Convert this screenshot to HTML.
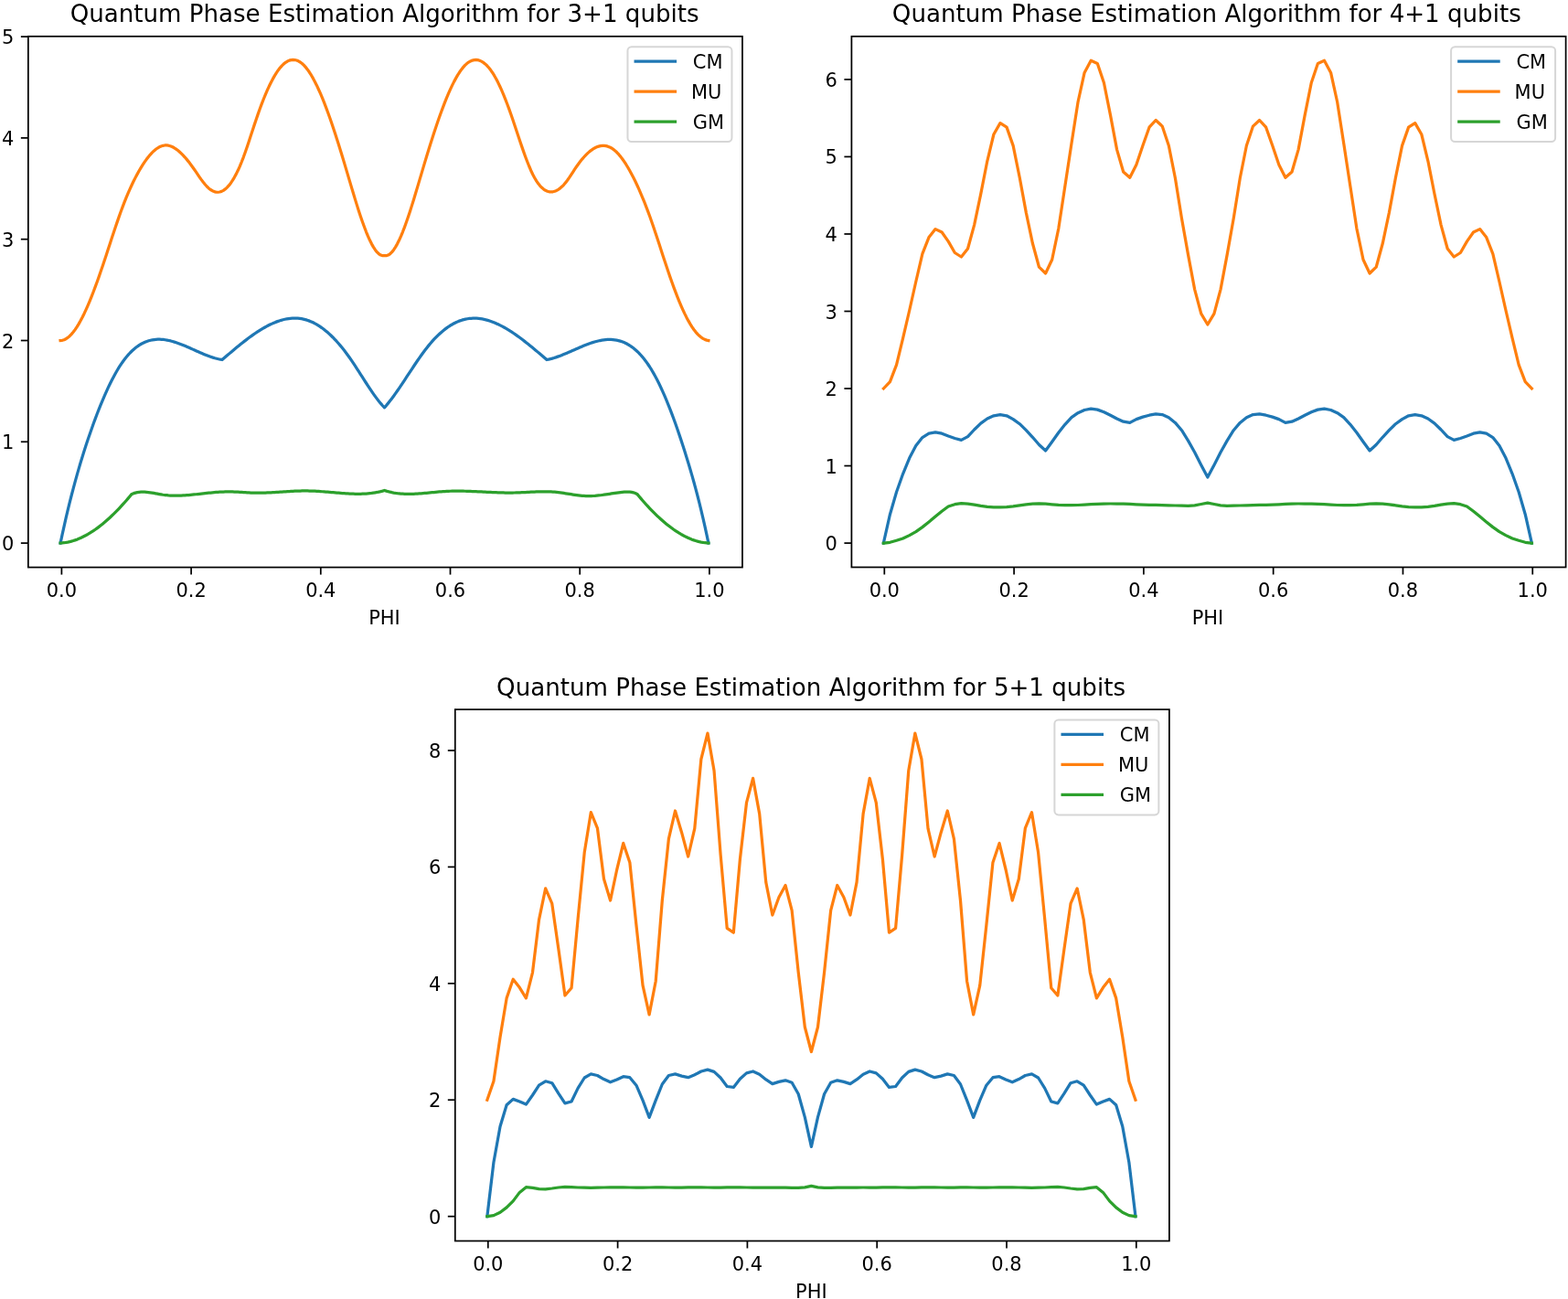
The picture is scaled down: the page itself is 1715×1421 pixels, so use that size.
<!DOCTYPE html>
<html><head><meta charset="utf-8"><title>Quantum Phase Estimation Algorithm</title>
<style>
html,body{margin:0;padding:0;background:#fff;width:1715px;height:1421px;overflow:hidden}
svg{display:block}
.t{font-family:'DejaVu Sans', 'Liberation Sans', sans-serif;font-size:20.95px;fill:#000}
.ti{font-family:'DejaVu Sans', 'Liberation Sans', sans-serif;font-size:26.1px;fill:#000}
</style></head><body>
<svg width="1715" height="1421" viewBox="0 0 1715 1421">
<defs><clipPath id="c0"><rect x="30.85" y="39.8" width="781.11" height="580.80"/></clipPath><clipPath id="c1"><rect x="931.4" y="39.8" width="781.20" height="580.70"/></clipPath><clipPath id="c2"><rect x="497.8" y="776.1" width="781.10" height="581.40"/></clipPath></defs>
<rect x="0" y="0" width="1715" height="1421" fill="#fff"/>
<polyline points="66.10,594.10 68.11,584.67 70.12,575.55 72.13,566.73 74.14,558.21 76.15,549.97 78.16,542.00 80.17,534.29 82.18,526.82 84.19,519.59 86.20,512.59 88.21,505.80 90.22,499.21 92.23,492.82 94.24,486.60 96.25,480.55 98.26,474.66 100.27,468.92 102.28,463.31 104.29,457.85 106.30,452.54 108.31,447.37 110.32,442.36 112.34,437.51 114.35,432.82 116.36,428.29 118.37,423.92 120.38,419.73 122.39,415.72 124.40,411.88 126.41,408.22 128.42,404.75 130.43,401.47 132.44,398.37 134.45,395.48 136.46,392.77 138.47,390.26 140.48,387.92 142.49,385.76 144.50,383.77 146.51,381.95 148.52,380.29 150.53,378.79 152.54,377.44 154.55,376.24 156.56,375.18 158.57,374.26 160.58,373.47 162.59,372.80 164.60,372.26 166.61,371.84 168.62,371.53 170.63,371.32 172.64,371.22 174.65,371.22 176.66,371.30 178.67,371.48 180.68,371.74 182.69,372.07 184.70,372.48 186.71,372.95 188.72,373.49 190.73,374.09 192.74,374.73 194.75,375.43 196.76,376.17 198.78,376.94 200.79,377.75 202.80,378.59 204.81,379.45 206.82,380.32 208.83,381.21 210.84,382.11 212.85,383.01 214.86,383.91 216.87,384.80 218.88,385.68 220.89,386.55 222.90,387.39 224.91,388.20 226.92,388.98 228.93,389.73 230.94,390.43 232.95,391.09 234.96,391.70 236.97,392.24 238.98,392.73 240.99,393.15 243.00,393.50 245.02,391.77 247.03,390.05 249.05,388.33 251.07,386.62 253.09,384.91 255.10,383.22 257.12,381.54 259.14,379.87 261.15,378.22 263.17,376.59 265.19,374.98 267.20,373.40 269.22,371.84 271.24,370.32 273.26,368.82 275.27,367.35 277.29,365.93 279.31,364.53 281.32,363.18 283.34,361.88 285.36,360.61 287.38,359.40 289.39,358.23 291.41,357.11 293.43,356.05 295.44,355.04 297.46,354.10 299.48,353.21 301.49,352.38 303.51,351.62 305.53,350.93 307.55,350.31 309.56,349.76 311.58,349.28 313.60,348.88 315.61,348.56 317.63,348.32 319.65,348.16 321.66,348.09 323.68,348.11 325.70,348.21 327.72,348.41 329.73,348.71 331.75,349.10 333.77,349.59 335.78,350.18 337.80,350.87 339.82,351.67 341.84,352.57 343.85,353.56 345.87,354.66 347.89,355.86 349.90,357.16 351.92,358.56 353.94,360.05 355.95,361.65 357.97,363.34 359.99,365.12 362.01,367.00 364.02,368.98 366.04,371.06 368.06,373.22 370.07,375.49 372.09,377.84 374.11,380.29 376.12,382.83 378.14,385.46 380.16,388.18 382.18,391.00 384.19,393.90 386.21,396.88 388.23,399.93 390.24,403.02 392.26,406.15 394.28,409.30 396.30,412.47 398.31,415.62 400.33,418.75 402.35,421.86 404.36,424.91 406.38,427.90 408.40,430.81 410.41,433.63 412.43,436.35 414.45,438.95 416.47,441.42 418.48,443.74 420.50,445.90 422.52,443.57 424.53,441.12 426.55,438.57 428.57,435.92 430.59,433.19 432.60,430.38 434.62,427.50 436.64,424.57 438.65,421.59 440.67,418.57 442.69,415.53 444.70,412.47 446.72,409.40 448.74,406.34 450.76,403.28 452.77,400.25 454.79,397.24 456.81,394.28 458.82,391.37 460.84,388.51 462.86,385.73 464.88,383.02 466.89,380.41 468.91,377.89 470.93,375.48 472.94,373.17 474.96,370.96 476.98,368.86 478.99,366.86 481.01,364.96 483.03,363.17 485.05,361.48 487.06,359.89 489.08,358.40 491.10,357.02 493.11,355.73 495.13,354.55 497.15,353.48 499.16,352.50 501.18,351.62 503.20,350.85 505.22,350.17 507.23,349.60 509.25,349.12 511.27,348.75 513.28,348.46 515.30,348.27 517.32,348.18 519.34,348.17 521.35,348.24 523.37,348.40 525.39,348.64 527.40,348.96 529.42,349.36 531.44,349.84 533.45,350.39 535.47,351.00 537.49,351.69 539.51,352.45 541.52,353.26 543.54,354.15 545.56,355.09 547.57,356.09 549.59,357.14 551.61,358.25 553.62,359.41 555.64,360.62 557.66,361.87 559.68,363.17 561.69,364.52 563.71,365.90 565.73,367.32 567.74,368.78 569.76,370.27 571.78,371.79 573.80,373.35 575.81,374.93 577.83,376.53 579.85,378.16 581.86,379.81 583.88,381.48 585.90,383.17 587.91,384.87 589.93,386.58 591.95,388.30 593.97,390.03 595.98,391.76 598.00,393.50 600.01,393.09 602.02,392.61 604.03,392.07 606.04,391.48 608.05,390.84 610.06,390.15 612.07,389.42 614.08,388.65 616.09,387.86 618.10,387.03 620.11,386.19 622.12,385.33 624.13,384.45 626.14,383.57 628.15,382.68 630.16,381.79 632.17,380.91 634.18,380.04 636.19,379.19 638.20,378.35 640.21,377.55 642.23,376.77 644.24,376.02 646.25,375.31 648.26,374.65 650.27,374.04 652.28,373.47 654.29,372.97 656.30,372.53 658.31,372.15 660.32,371.85 662.33,371.62 664.34,371.47 666.35,371.41 668.36,371.44 670.37,371.57 672.38,371.79 674.39,372.12 676.40,372.56 678.41,373.11 680.42,373.78 682.43,374.58 684.44,375.50 686.45,376.55 688.46,377.74 690.47,379.08 692.48,380.56 694.49,382.19 696.50,383.98 698.51,385.93 700.52,388.04 702.53,390.32 704.54,392.78 706.55,395.42 708.56,398.24 710.57,401.26 712.58,404.46 714.59,407.86 716.60,411.47 718.61,415.27 720.62,419.28 722.63,423.47 724.64,427.84 726.65,432.40 728.66,437.14 730.67,442.05 732.69,447.13 734.70,452.37 736.71,457.77 738.72,463.32 740.73,469.02 742.74,474.87 744.75,480.86 746.76,486.99 748.77,493.25 750.78,499.65 752.79,506.20 754.80,512.93 756.81,519.85 758.82,526.99 760.83,534.36 762.84,541.99 764.85,549.88 766.86,558.07 768.87,566.56 770.88,575.39 772.89,584.56 774.90,594.10" fill="none" stroke="#1f77b4" stroke-width="3.25" stroke-linejoin="round" stroke-linecap="square" clip-path="url(#c0)"/>
<polyline points="66.10,372.50 68.10,372.29 70.10,371.70 72.11,370.72 74.11,369.38 76.11,367.68 78.11,365.64 80.12,363.28 82.12,360.60 84.12,357.61 86.12,354.34 88.12,350.79 90.13,346.97 92.13,342.91 94.13,338.60 96.13,334.07 98.14,329.32 100.14,324.38 102.14,319.24 104.14,313.93 106.15,308.46 108.15,302.84 110.15,297.08 112.15,291.19 114.15,285.21 116.16,279.16 118.16,273.06 120.16,266.94 122.16,260.84 124.17,254.78 126.17,248.79 128.17,242.89 130.17,237.12 132.17,231.51 134.18,226.07 136.18,220.85 138.18,215.85 140.18,211.08 142.19,206.54 144.19,202.20 146.19,198.07 148.19,194.13 150.19,190.38 152.20,186.82 154.20,183.42 156.20,180.21 158.20,177.18 160.21,174.35 162.21,171.72 164.21,169.31 166.21,167.13 168.22,165.18 170.22,163.47 172.22,162.03 174.22,160.84 176.22,159.94 178.23,159.31 180.23,158.99 182.23,158.96 184.23,159.21 186.24,159.74 188.24,160.53 190.24,161.56 192.24,162.82 194.24,164.29 196.25,165.97 198.25,167.83 200.25,169.87 202.25,172.06 204.26,174.39 206.26,176.86 208.26,179.45 210.26,182.17 212.26,185.00 214.27,187.92 216.27,190.88 218.27,193.81 220.27,196.64 222.28,199.32 224.28,201.78 226.28,204.00 228.28,205.92 230.29,207.50 232.29,208.74 234.29,209.61 236.29,210.12 238.29,210.25 240.30,210.01 242.30,209.38 244.30,208.36 246.30,206.95 248.31,205.15 250.31,202.97 252.31,200.39 254.31,197.44 256.31,194.10 258.32,190.39 260.32,186.30 262.32,181.84 264.32,177.00 266.33,171.80 268.33,166.24 270.33,160.41 272.33,154.39 274.34,148.28 276.34,142.17 278.34,136.12 280.34,130.18 282.34,124.38 284.35,118.77 286.35,113.39 288.35,108.25 290.35,103.35 292.36,98.70 294.36,94.32 296.36,90.21 298.36,86.38 300.36,82.85 302.37,79.61 304.37,76.69 306.37,74.08 308.37,71.81 310.38,69.87 312.38,68.27 314.38,67.03 316.38,66.13 318.38,65.57 320.39,65.37 322.39,65.51 324.39,66.00 326.39,66.83 328.40,68.01 330.40,69.54 332.40,71.42 334.40,73.63 336.41,76.17 338.41,79.04 340.41,82.20 342.41,85.67 344.41,89.41 346.42,93.42 348.42,97.69 350.42,102.21 352.42,106.96 354.43,111.93 356.43,117.11 358.43,122.49 360.43,128.06 362.43,133.80 364.44,139.71 366.44,145.76 368.44,151.96 370.44,158.28 372.45,164.71 374.45,171.25 376.45,177.88 378.45,184.59 380.45,191.35 382.46,198.13 384.46,204.88 386.46,211.56 388.46,218.15 390.47,224.61 392.47,230.89 394.47,236.96 396.47,242.78 398.48,248.31 400.48,253.53 402.48,258.38 404.48,262.83 406.48,266.84 408.49,270.39 410.49,273.42 412.49,275.90 414.49,277.80 416.50,279.07 418.50,279.68 420.50,279.60 422.50,279.68 424.50,279.06 426.51,277.78 428.51,275.89 430.51,273.40 432.51,270.37 434.52,266.83 436.52,262.81 438.52,258.37 440.52,253.52 442.52,248.31 444.53,242.78 446.53,236.96 448.53,230.90 450.53,224.62 452.54,218.17 454.54,211.58 456.54,204.90 458.54,198.15 460.55,191.37 462.55,184.61 464.55,177.90 466.55,171.27 468.55,164.73 470.56,158.29 472.56,151.96 474.56,145.76 476.56,139.70 478.57,133.79 480.57,128.05 482.57,122.47 484.57,117.09 486.57,111.90 488.58,106.92 490.58,102.17 492.58,97.65 494.58,93.38 496.59,89.37 498.59,85.63 500.59,82.17 502.59,79.01 504.59,76.16 506.60,73.63 508.60,71.42 510.60,69.57 512.60,68.05 514.61,66.89 516.61,66.07 518.61,65.60 520.61,65.47 522.62,65.68 524.62,66.23 526.62,67.12 528.62,68.35 530.62,69.91 532.63,71.80 534.63,74.03 536.63,76.59 538.63,79.48 540.64,82.70 542.64,86.24 544.64,90.09 546.64,94.23 548.64,98.65 550.65,103.34 552.65,108.29 554.65,113.48 556.65,118.90 558.66,124.53 560.66,130.34 562.66,136.26 564.66,142.26 566.66,148.27 568.67,154.24 570.67,160.13 572.67,165.88 574.67,171.43 576.68,176.75 578.68,181.76 580.68,186.44 582.68,190.71 584.69,194.53 586.69,197.90 588.69,200.82 590.69,203.30 592.69,205.37 594.70,207.04 596.70,208.32 598.70,209.22 600.70,209.76 602.71,209.94 604.71,209.78 606.71,209.27 608.71,208.44 610.71,207.29 612.72,205.83 614.72,204.07 616.72,202.01 618.72,199.67 620.73,197.04 622.73,194.18 624.73,191.15 626.73,188.05 628.74,184.98 630.74,182.03 632.74,179.22 634.74,176.57 636.74,174.07 638.75,171.75 640.75,169.60 642.75,167.64 644.75,165.87 646.76,164.29 648.76,162.92 650.76,161.77 652.76,160.83 654.76,160.11 656.77,159.63 658.77,159.38 660.77,159.38 662.77,159.63 664.78,160.14 666.78,160.92 668.78,161.97 670.78,163.30 672.78,164.91 674.79,166.80 676.79,168.95 678.79,171.36 680.79,174.01 682.80,176.89 684.80,179.98 686.80,183.28 688.80,186.77 690.81,190.45 692.81,194.30 694.81,198.34 696.81,202.56 698.81,206.95 700.82,211.53 702.82,216.28 704.82,221.21 706.82,226.32 708.83,231.60 710.83,237.05 712.83,242.67 714.83,248.47 716.83,254.41 718.84,260.46 720.84,266.58 722.84,272.74 724.84,278.91 726.85,285.04 728.85,291.10 730.85,297.06 732.85,302.89 734.85,308.57 736.86,314.09 738.86,319.44 740.86,324.60 742.86,329.56 744.87,334.30 746.87,338.83 748.87,343.11 750.87,347.14 752.88,350.91 754.88,354.39 756.88,357.59 758.88,360.48 760.88,363.08 762.89,365.37 764.89,367.35 766.89,369.01 768.89,370.37 770.90,371.40 772.90,372.11 774.90,372.50" fill="none" stroke="#ff7f0e" stroke-width="3.25" stroke-linejoin="round" stroke-linecap="square" clip-path="url(#c0)"/>
<polyline points="66.10,594.10 68.10,593.96 70.11,593.74 72.11,593.45 74.11,593.08 76.11,592.64 78.12,592.12 80.12,591.54 82.12,590.88 84.12,590.16 86.13,589.36 88.13,588.50 90.13,587.57 92.13,586.57 94.14,585.51 96.14,584.39 98.14,583.20 100.14,581.94 102.15,580.63 104.15,579.26 106.15,577.82 108.15,576.33 110.16,574.78 112.16,573.17 114.16,571.51 116.16,569.79 118.17,568.01 120.17,566.19 122.17,564.30 124.17,562.37 126.18,560.39 128.18,558.36 130.18,556.27 132.18,554.14 134.19,551.97 136.19,549.74 138.19,547.47 140.19,545.16 142.20,542.80 144.20,540.40 146.20,539.66 148.20,539.08 150.21,538.66 152.21,538.37 154.21,538.21 156.21,538.16 158.22,538.21 160.22,538.34 162.22,538.54 164.22,538.81 166.22,539.12 168.23,539.47 170.23,539.83 172.23,540.21 174.23,540.57 176.23,540.92 178.24,541.24 180.24,541.51 182.24,541.73 184.24,541.91 186.25,542.04 188.25,542.14 190.25,542.19 192.25,542.21 194.25,542.19 196.26,542.15 198.26,542.07 200.26,541.97 202.26,541.85 204.27,541.70 206.27,541.54 208.27,541.36 210.27,541.17 212.27,540.96 214.28,540.75 216.28,540.53 218.28,540.31 220.28,540.09 222.28,539.86 224.29,539.64 226.29,539.43 228.29,539.22 230.29,539.02 232.30,538.83 234.30,538.65 236.30,538.48 238.30,538.34 240.30,538.21 242.31,538.10 244.31,538.01 246.31,537.95 248.31,537.91 250.32,537.91 252.32,537.93 254.32,537.98 256.32,538.05 258.32,538.13 260.33,538.23 262.33,538.35 264.33,538.46 266.33,538.58 268.33,538.70 270.34,538.82 272.34,538.92 274.34,539.01 276.34,539.09 278.35,539.14 280.35,539.17 282.35,539.18 284.35,539.17 286.35,539.14 288.36,539.10 290.36,539.03 292.36,538.96 294.36,538.87 296.37,538.77 298.37,538.66 300.37,538.54 302.37,538.42 304.37,538.29 306.38,538.16 308.38,538.03 310.38,537.90 312.38,537.77 314.38,537.65 316.39,537.53 318.39,537.42 320.39,537.31 322.39,537.22 324.40,537.13 326.40,537.06 328.40,537.01 330.40,536.97 332.40,536.95 334.41,536.95 336.41,536.97 338.41,537.01 340.41,537.07 342.42,537.15 344.42,537.24 346.42,537.35 348.42,537.47 350.42,537.60 352.43,537.75 354.43,537.90 356.43,538.06 358.43,538.22 360.43,538.39 362.44,538.56 364.44,538.73 366.44,538.90 368.44,539.07 370.45,539.24 372.45,539.40 374.45,539.55 376.45,539.69 378.45,539.83 380.46,539.95 382.46,540.06 384.46,540.15 386.46,540.22 388.47,540.27 390.47,540.30 392.47,540.30 394.47,540.27 396.47,540.22 398.48,540.13 400.48,540.01 402.48,539.85 404.48,539.66 406.48,539.43 408.49,539.15 410.49,538.83 412.49,538.47 414.49,538.05 416.50,537.59 418.50,537.07 420.50,536.50 422.50,537.13 424.50,537.70 426.51,538.21 428.51,538.65 430.51,539.04 432.51,539.38 434.52,539.66 436.52,539.89 438.52,540.08 440.52,540.22 442.52,540.32 444.53,540.39 446.53,540.41 448.53,540.41 450.53,540.37 452.53,540.30 454.54,540.21 456.54,540.10 458.54,539.97 460.54,539.82 462.55,539.65 464.55,539.48 466.55,539.29 468.55,539.10 470.55,538.90 472.56,538.71 474.56,538.51 476.56,538.32 478.56,538.14 480.57,537.96 482.57,537.80 484.57,537.65 486.57,537.52 488.57,537.41 490.58,537.32 492.58,537.25 494.58,537.20 496.58,537.16 498.58,537.14 500.59,537.14 502.59,537.14 504.59,537.17 506.59,537.20 508.60,537.25 510.60,537.30 512.60,537.37 514.60,537.44 516.60,537.52 518.61,537.60 520.61,537.69 522.61,537.79 524.61,537.89 526.62,537.99 528.62,538.09 530.62,538.19 532.62,538.29 534.62,538.39 536.63,538.48 538.63,538.57 540.63,538.66 542.63,538.74 544.63,538.81 546.64,538.88 548.64,538.94 550.64,538.98 552.64,539.02 554.65,539.04 556.65,539.05 558.65,539.05 560.65,539.03 562.65,539.00 564.66,538.95 566.66,538.88 568.66,538.81 570.66,538.72 572.67,538.62 574.67,538.52 576.67,538.42 578.67,538.32 580.67,538.22 582.68,538.12 584.68,538.03 586.68,537.95 588.68,537.88 590.68,537.83 592.69,537.80 594.69,537.78 596.69,537.79 598.69,537.82 600.70,537.88 602.70,537.97 604.70,538.09 606.70,538.24 608.70,538.43 610.71,538.66 612.71,538.91 614.71,539.18 616.71,539.48 618.72,539.79 620.72,540.10 622.72,540.42 624.72,540.73 626.72,541.04 628.73,541.34 630.73,541.61 632.73,541.87 634.73,542.09 636.73,542.29 638.74,542.44 640.74,542.56 642.74,542.62 644.74,542.63 646.75,542.59 648.75,542.50 650.75,542.37 652.75,542.19 654.75,541.98 656.76,541.75 658.76,541.49 660.76,541.20 662.76,540.91 664.77,540.60 666.77,540.28 668.77,539.97 670.77,539.66 672.77,539.36 674.78,539.07 676.78,538.79 678.78,538.55 680.78,538.32 682.78,538.14 684.79,538.03 686.79,538.01 688.79,538.12 690.79,538.39 692.80,538.83 694.80,539.49 696.80,540.40 698.80,542.80 700.81,545.16 702.81,547.47 704.81,549.74 706.81,551.97 708.82,554.14 710.82,556.27 712.82,558.36 714.82,560.39 716.83,562.37 718.83,564.30 720.83,566.19 722.83,568.01 724.84,569.79 726.84,571.51 728.84,573.17 730.84,574.78 732.85,576.33 734.85,577.82 736.85,579.26 738.85,580.63 740.86,581.94 742.86,583.20 744.86,584.39 746.86,585.51 748.87,586.57 750.87,587.57 752.87,588.50 754.87,589.36 756.88,590.16 758.88,590.88 760.88,591.54 762.88,592.12 764.89,592.64 766.89,593.08 768.89,593.45 770.89,593.74 772.90,593.96 774.90,594.10" fill="none" stroke="#2ca02c" stroke-width="3.25" stroke-linejoin="round" stroke-linecap="square" clip-path="url(#c0)"/>
<rect x="30.85" y="39.8" width="781.11" height="580.80" fill="none" stroke="#000" stroke-width="1.73" stroke-linejoin="miter" stroke-linecap="square"/>
<line x1="67.40" y1="620.6" x2="67.40" y2="628.60" stroke="#000" stroke-width="1.73"/>
<text x="67.40" y="652.90" text-anchor="middle" class="t">0.0</text>
<line x1="209.10" y1="620.6" x2="209.10" y2="628.60" stroke="#000" stroke-width="1.73"/>
<text x="209.10" y="652.90" text-anchor="middle" class="t">0.2</text>
<line x1="350.80" y1="620.6" x2="350.80" y2="628.60" stroke="#000" stroke-width="1.73"/>
<text x="350.80" y="652.90" text-anchor="middle" class="t">0.4</text>
<line x1="492.50" y1="620.6" x2="492.50" y2="628.60" stroke="#000" stroke-width="1.73"/>
<text x="492.50" y="652.90" text-anchor="middle" class="t">0.6</text>
<line x1="634.20" y1="620.6" x2="634.20" y2="628.60" stroke="#000" stroke-width="1.73"/>
<text x="634.20" y="652.90" text-anchor="middle" class="t">0.8</text>
<line x1="775.90" y1="620.6" x2="775.90" y2="628.60" stroke="#000" stroke-width="1.73"/>
<text x="775.90" y="652.90" text-anchor="middle" class="t">1.0</text>
<line x1="22.85" y1="594.10" x2="30.85" y2="594.10" stroke="#000" stroke-width="1.73"/>
<text x="15.35" y="602.10" text-anchor="end" class="t">0</text>
<line x1="22.85" y1="483.30" x2="30.85" y2="483.30" stroke="#000" stroke-width="1.73"/>
<text x="15.35" y="491.30" text-anchor="end" class="t">1</text>
<line x1="22.85" y1="372.50" x2="30.85" y2="372.50" stroke="#000" stroke-width="1.73"/>
<text x="15.35" y="380.50" text-anchor="end" class="t">2</text>
<line x1="22.85" y1="261.70" x2="30.85" y2="261.70" stroke="#000" stroke-width="1.73"/>
<text x="15.35" y="269.70" text-anchor="end" class="t">3</text>
<line x1="22.85" y1="150.90" x2="30.85" y2="150.90" stroke="#000" stroke-width="1.73"/>
<text x="15.35" y="158.90" text-anchor="end" class="t">4</text>
<line x1="22.85" y1="40.10" x2="30.85" y2="40.10" stroke="#000" stroke-width="1.73"/>
<text x="15.35" y="48.10" text-anchor="end" class="t">5</text>
<text x="420.61" y="24.20" text-anchor="middle" class="ti">Quantum Phase Estimation Algorithm for 3+1 qubits</text>
<text x="420.41" y="682.60" text-anchor="middle" class="t">PHI</text>
<rect x="686.46" y="51.20" width="114.0" height="103.9" rx="4.3" ry="4.3" fill="#fff" fill-opacity="0.8" stroke="#d6d6d6" stroke-width="2"/>
<line x1="695.16" y1="67.10" x2="738.46" y2="67.10" stroke="#1f77b4" stroke-width="3.25" stroke-linecap="square"/>
<text x="757.86" y="74.90" class="t">CM</text>
<line x1="695.16" y1="100.05" x2="738.46" y2="100.05" stroke="#ff7f0e" stroke-width="3.25" stroke-linecap="square"/>
<text x="755.96" y="107.75" class="t">MU</text>
<line x1="695.16" y1="133.00" x2="738.46" y2="133.00" stroke="#2ca02c" stroke-width="3.25" stroke-linecap="square"/>
<text x="757.86" y="140.60" class="t">GM</text>
<polyline points="966.35,594.10 973.44,562.70 980.53,538.30 987.62,518.30 994.71,501.10 1001.80,487.60 1008.89,478.60 1015.98,474.20 1023.07,472.90 1030.16,474.20 1037.25,477.00 1044.34,479.50 1051.43,481.40 1058.52,477.60 1065.61,470.00 1072.70,463.10 1079.79,458.00 1086.88,454.80 1093.97,453.60 1101.06,454.80 1108.15,458.60 1115.24,463.70 1122.33,470.70 1129.42,478.30 1136.51,486.50 1143.60,493.00 1150.69,483.30 1157.78,473.20 1164.87,464.30 1171.96,456.70 1179.05,451.70 1186.14,448.50 1193.23,447.20 1200.32,448.10 1207.41,450.70 1214.50,454.20 1221.59,458.00 1228.68,461.20 1235.77,462.40 1242.86,458.60 1249.95,456.10 1257.04,454.20 1264.13,452.90 1271.22,453.60 1278.31,456.70 1285.40,462.40 1292.49,470.70 1299.58,482.10 1306.67,494.70 1313.76,508.70 1320.85,522.00 1327.94,508.70 1335.03,494.70 1342.12,482.10 1349.21,470.70 1356.30,462.40 1363.39,456.70 1370.48,453.60 1377.57,452.90 1384.66,454.20 1391.75,456.10 1398.84,458.60 1405.93,462.40 1413.02,461.20 1420.11,458.00 1427.20,454.20 1434.29,450.70 1441.38,448.10 1448.47,447.20 1455.56,448.50 1462.65,451.70 1469.74,456.70 1476.83,464.30 1483.92,473.20 1491.01,483.30 1498.10,493.00 1505.19,486.50 1512.28,478.30 1519.37,470.70 1526.46,463.70 1533.55,458.60 1540.64,454.80 1547.73,453.60 1554.82,454.80 1561.91,458.00 1569.00,463.10 1576.09,470.00 1583.18,477.60 1590.27,481.40 1597.36,479.50 1604.45,477.00 1611.54,474.20 1618.63,472.90 1625.72,474.20 1632.81,478.60 1639.90,487.60 1646.99,501.10 1654.08,518.30 1661.17,538.30 1668.26,562.70 1675.35,594.10" fill="none" stroke="#1f77b4" stroke-width="3.25" stroke-linejoin="round" stroke-linecap="square" clip-path="url(#c1)"/>
<polyline points="966.35,425.00 973.44,417.60 980.53,399.20 987.62,369.90 994.71,339.50 1001.80,308.00 1008.89,277.60 1015.98,259.60 1023.07,250.60 1030.16,254.00 1037.25,264.10 1044.34,276.50 1051.43,281.00 1058.52,272.00 1065.61,246.10 1072.70,212.30 1079.79,176.30 1086.88,147.00 1093.97,134.60 1101.06,139.10 1108.15,159.40 1115.24,194.30 1122.33,232.60 1129.42,266.30 1136.51,292.20 1143.60,299.00 1150.69,284.00 1157.78,250.10 1164.87,203.50 1171.96,157.00 1179.05,111.50 1186.14,79.40 1193.23,66.20 1200.32,69.40 1207.41,90.50 1214.50,125.90 1221.59,163.60 1228.68,188.00 1235.77,194.20 1242.86,180.20 1249.95,159.20 1257.04,139.20 1264.13,131.50 1271.22,138.10 1278.31,159.20 1285.40,194.70 1292.49,239.00 1299.58,278.90 1306.67,316.60 1313.76,343.20 1320.85,355.00 1327.94,343.20 1335.03,316.60 1342.12,278.90 1349.21,239.00 1356.30,194.70 1363.39,159.20 1370.48,138.10 1377.57,131.50 1384.66,139.20 1391.75,159.20 1398.84,180.20 1405.93,194.20 1413.02,188.00 1420.11,163.60 1427.20,125.90 1434.29,90.50 1441.38,69.40 1448.47,66.20 1455.56,79.40 1462.65,111.50 1469.74,157.00 1476.83,203.50 1483.92,250.10 1491.01,284.00 1498.10,299.00 1505.19,292.20 1512.28,266.30 1519.37,232.60 1526.46,194.30 1533.55,159.40 1540.64,139.10 1547.73,134.60 1554.82,147.00 1561.91,176.30 1569.00,212.30 1576.09,246.10 1583.18,272.00 1590.27,281.00 1597.36,276.50 1604.45,264.10 1611.54,254.00 1618.63,250.60 1625.72,259.60 1632.81,277.60 1639.90,308.00 1646.99,339.50 1654.08,369.90 1661.17,399.20 1668.26,417.60 1675.35,425.00" fill="none" stroke="#ff7f0e" stroke-width="3.25" stroke-linejoin="round" stroke-linecap="square" clip-path="url(#c1)"/>
<polyline points="966.35,594.10 973.44,593.30 980.53,591.30 987.62,589.00 994.71,585.60 1001.80,581.60 1008.89,576.60 1015.98,571.00 1023.07,565.10 1030.16,559.30 1037.25,554.00 1044.34,551.70 1051.43,550.60 1058.52,551.20 1065.61,552.20 1072.70,553.40 1079.79,554.30 1086.88,554.80 1093.97,554.90 1101.06,554.60 1108.15,553.80 1115.24,552.80 1122.33,551.80 1129.42,551.10 1136.51,550.90 1143.60,551.20 1150.69,551.80 1157.78,552.30 1164.87,552.60 1171.96,552.70 1179.05,552.50 1186.14,552.10 1193.23,551.70 1200.32,551.30 1207.41,551.10 1214.50,551.00 1221.59,551.00 1228.68,551.10 1235.77,551.40 1242.86,551.80 1249.95,552.10 1257.04,552.30 1264.13,552.40 1271.22,552.60 1278.31,552.80 1285.40,553.00 1292.49,553.20 1299.58,553.30 1306.67,552.80 1313.76,551.50 1320.85,550.10 1327.94,551.50 1335.03,552.80 1342.12,553.30 1349.21,553.20 1356.30,553.00 1363.39,552.80 1370.48,552.60 1377.57,552.40 1384.66,552.30 1391.75,552.10 1398.84,551.80 1405.93,551.40 1413.02,551.10 1420.11,551.00 1427.20,551.00 1434.29,551.10 1441.38,551.30 1448.47,551.70 1455.56,552.10 1462.65,552.50 1469.74,552.70 1476.83,552.60 1483.92,552.30 1491.01,551.80 1498.10,551.20 1505.19,550.90 1512.28,551.10 1519.37,551.80 1526.46,552.80 1533.55,553.80 1540.64,554.60 1547.73,554.90 1554.82,554.80 1561.91,554.30 1569.00,553.40 1576.09,552.20 1583.18,551.20 1590.27,550.60 1597.36,551.70 1604.45,554.00 1611.54,559.30 1618.63,565.10 1625.72,571.00 1632.81,576.60 1639.90,581.60 1646.99,585.60 1654.08,589.00 1661.17,591.30 1668.26,593.30 1675.35,594.10" fill="none" stroke="#2ca02c" stroke-width="3.25" stroke-linejoin="round" stroke-linecap="square" clip-path="url(#c1)"/>
<rect x="931.4" y="39.8" width="781.20" height="580.70" fill="none" stroke="#000" stroke-width="1.73" stroke-linejoin="miter" stroke-linecap="square"/>
<line x1="967.30" y1="620.5" x2="967.30" y2="628.50" stroke="#000" stroke-width="1.73"/>
<text x="967.30" y="652.80" text-anchor="middle" class="t">0.0</text>
<line x1="1109.09" y1="620.5" x2="1109.09" y2="628.50" stroke="#000" stroke-width="1.73"/>
<text x="1109.09" y="652.80" text-anchor="middle" class="t">0.2</text>
<line x1="1250.88" y1="620.5" x2="1250.88" y2="628.50" stroke="#000" stroke-width="1.73"/>
<text x="1250.88" y="652.80" text-anchor="middle" class="t">0.4</text>
<line x1="1392.67" y1="620.5" x2="1392.67" y2="628.50" stroke="#000" stroke-width="1.73"/>
<text x="1392.67" y="652.80" text-anchor="middle" class="t">0.6</text>
<line x1="1534.46" y1="620.5" x2="1534.46" y2="628.50" stroke="#000" stroke-width="1.73"/>
<text x="1534.46" y="652.80" text-anchor="middle" class="t">0.8</text>
<line x1="1676.25" y1="620.5" x2="1676.25" y2="628.50" stroke="#000" stroke-width="1.73"/>
<text x="1676.25" y="652.80" text-anchor="middle" class="t">1.0</text>
<line x1="923.40" y1="594.10" x2="931.4" y2="594.10" stroke="#000" stroke-width="1.73"/>
<text x="915.90" y="602.10" text-anchor="end" class="t">0</text>
<line x1="923.40" y1="509.57" x2="931.4" y2="509.57" stroke="#000" stroke-width="1.73"/>
<text x="915.90" y="517.57" text-anchor="end" class="t">1</text>
<line x1="923.40" y1="425.04" x2="931.4" y2="425.04" stroke="#000" stroke-width="1.73"/>
<text x="915.90" y="433.04" text-anchor="end" class="t">2</text>
<line x1="923.40" y1="340.51" x2="931.4" y2="340.51" stroke="#000" stroke-width="1.73"/>
<text x="915.90" y="348.51" text-anchor="end" class="t">3</text>
<line x1="923.40" y1="255.98" x2="931.4" y2="255.98" stroke="#000" stroke-width="1.73"/>
<text x="915.90" y="263.98" text-anchor="end" class="t">4</text>
<line x1="923.40" y1="171.45" x2="931.4" y2="171.45" stroke="#000" stroke-width="1.73"/>
<text x="915.90" y="179.45" text-anchor="end" class="t">5</text>
<line x1="923.40" y1="86.92" x2="931.4" y2="86.92" stroke="#000" stroke-width="1.73"/>
<text x="915.90" y="94.92" text-anchor="end" class="t">6</text>
<text x="1319.80" y="24.20" text-anchor="middle" class="ti">Quantum Phase Estimation Algorithm for 4+1 qubits</text>
<text x="1321.00" y="682.50" text-anchor="middle" class="t">PHI</text>
<rect x="1587.10" y="51.20" width="114.0" height="103.9" rx="4.3" ry="4.3" fill="#fff" fill-opacity="0.8" stroke="#d6d6d6" stroke-width="2"/>
<line x1="1595.80" y1="67.10" x2="1639.10" y2="67.10" stroke="#1f77b4" stroke-width="3.25" stroke-linecap="square"/>
<text x="1658.50" y="74.90" class="t">CM</text>
<line x1="1595.80" y1="100.05" x2="1639.10" y2="100.05" stroke="#ff7f0e" stroke-width="3.25" stroke-linecap="square"/>
<text x="1656.60" y="107.75" class="t">MU</text>
<line x1="1595.80" y1="133.00" x2="1639.10" y2="133.00" stroke="#2ca02c" stroke-width="3.25" stroke-linecap="square"/>
<text x="1658.50" y="140.60" class="t">GM</text>
<polyline points="532.85,1330.65 539.94,1271.50 547.03,1232.20 554.12,1208.80 561.21,1202.40 568.31,1205.00 575.40,1208.10 582.49,1198.00 589.58,1187.20 596.67,1182.80 603.76,1184.70 610.85,1196.10 617.94,1206.90 625.03,1205.00 632.12,1190.40 639.22,1179.00 646.31,1174.90 653.40,1176.50 660.49,1180.60 667.58,1183.80 674.67,1180.90 681.76,1177.70 688.85,1178.70 695.94,1187.20 703.03,1203.70 710.12,1222.40 717.22,1203.70 724.31,1186.00 731.40,1176.50 738.49,1174.90 745.58,1177.10 752.67,1178.70 759.76,1175.80 766.85,1172.00 773.94,1170.10 781.04,1172.40 788.13,1179.00 795.22,1188.50 802.31,1189.40 809.40,1180.30 816.49,1173.90 823.58,1172.00 830.67,1175.20 837.76,1180.90 844.85,1185.60 851.95,1183.40 859.04,1181.80 866.13,1184.30 873.22,1196.70 880.31,1222.10 887.40,1254.40 894.49,1222.10 901.58,1196.70 908.67,1184.30 915.76,1181.80 922.86,1183.40 929.95,1185.60 937.04,1180.90 944.13,1175.20 951.22,1172.00 958.31,1173.90 965.40,1180.30 972.49,1189.40 979.58,1188.50 986.67,1179.00 993.77,1172.40 1000.86,1170.10 1007.95,1172.00 1015.04,1175.80 1022.13,1178.70 1029.22,1177.10 1036.31,1174.90 1043.40,1176.50 1050.49,1186.00 1057.58,1203.70 1064.68,1222.40 1071.77,1203.70 1078.86,1187.20 1085.95,1178.70 1093.04,1177.70 1100.13,1180.90 1107.22,1183.80 1114.31,1180.60 1121.40,1176.50 1128.49,1174.90 1135.59,1179.00 1142.68,1190.40 1149.77,1205.00 1156.86,1206.90 1163.95,1196.10 1171.04,1184.70 1178.13,1182.80 1185.22,1187.20 1192.31,1198.00 1199.40,1208.10 1206.49,1205.00 1213.59,1202.40 1220.68,1208.80 1227.77,1232.20 1234.86,1271.50 1241.95,1330.65" fill="none" stroke="#1f77b4" stroke-width="3.25" stroke-linejoin="round" stroke-linecap="square" clip-path="url(#c2)"/>
<polyline points="532.85,1203.20 539.94,1182.80 547.03,1134.60 554.12,1091.90 561.21,1071.20 568.31,1080.30 575.40,1091.90 582.49,1063.80 589.58,1005.80 596.67,971.90 603.76,988.40 610.85,1038.10 617.94,1089.00 625.03,1080.80 632.12,1005.20 639.22,932.60 646.31,888.70 653.40,905.80 660.49,961.50 667.58,985.00 674.67,951.50 681.76,922.40 688.85,943.40 695.94,1012.00 703.03,1077.80 710.12,1109.90 717.22,1073.20 724.31,985.00 731.40,917.70 738.49,887.00 745.58,910.70 752.67,937.00 759.76,906.30 766.85,830.50 773.94,802.10 781.04,843.00 788.13,935.00 795.22,1015.40 802.31,1020.20 809.40,940.00 816.49,878.20 823.58,851.40 830.67,890.10 837.76,965.10 844.85,1001.00 851.95,981.50 859.04,968.50 866.13,995.80 873.22,1063.60 880.31,1123.50 887.40,1150.50 894.49,1123.50 901.58,1063.60 908.67,995.80 915.76,968.50 922.86,981.50 929.95,1001.00 937.04,965.10 944.13,890.10 951.22,851.40 958.31,878.20 965.40,940.00 972.49,1020.20 979.58,1015.40 986.67,935.00 993.77,843.00 1000.86,802.10 1007.95,830.50 1015.04,906.30 1022.13,937.00 1029.22,910.70 1036.31,887.00 1043.40,917.70 1050.49,985.00 1057.58,1073.20 1064.68,1109.90 1071.77,1077.80 1078.86,1012.00 1085.95,943.40 1093.04,922.40 1100.13,951.50 1107.22,985.00 1114.31,961.50 1121.40,905.80 1128.49,888.70 1135.59,932.60 1142.68,1005.20 1149.77,1080.80 1156.86,1089.00 1163.95,1038.10 1171.04,988.40 1178.13,971.90 1185.22,1005.80 1192.31,1063.80 1199.40,1091.90 1206.49,1080.30 1213.59,1071.20 1220.68,1091.90 1227.77,1134.60 1234.86,1182.80 1241.95,1203.20" fill="none" stroke="#ff7f0e" stroke-width="3.25" stroke-linejoin="round" stroke-linecap="square" clip-path="url(#c2)"/>
<polyline points="532.85,1330.65 539.94,1329.60 547.03,1326.20 554.12,1320.90 561.21,1313.90 568.31,1304.40 575.40,1298.70 582.49,1299.30 589.58,1300.60 596.67,1300.80 603.76,1300.00 610.85,1299.00 617.94,1298.40 625.03,1298.60 632.12,1299.00 639.22,1299.20 646.31,1299.30 653.40,1299.20 660.49,1299.00 667.58,1298.80 674.67,1298.80 681.76,1298.90 688.85,1299.00 695.94,1299.10 703.03,1299.10 710.12,1299.00 717.22,1298.90 724.31,1298.90 731.40,1299.00 738.49,1299.00 745.58,1299.00 752.67,1298.90 759.76,1298.90 766.85,1298.90 773.94,1299.00 781.04,1299.00 788.13,1299.00 795.22,1298.90 802.31,1298.90 809.40,1298.90 816.49,1299.00 823.58,1299.00 830.67,1299.00 837.76,1299.10 844.85,1299.10 851.95,1299.20 859.04,1299.20 866.13,1299.30 873.22,1299.40 880.31,1298.90 887.40,1297.40 894.49,1298.90 901.58,1299.40 908.67,1299.30 915.76,1299.20 922.86,1299.20 929.95,1299.10 937.04,1299.10 944.13,1299.00 951.22,1299.00 958.31,1299.00 965.40,1298.90 972.49,1298.90 979.58,1298.90 986.67,1299.00 993.77,1299.00 1000.86,1299.00 1007.95,1298.90 1015.04,1298.90 1022.13,1298.90 1029.22,1299.00 1036.31,1299.00 1043.40,1299.00 1050.49,1298.90 1057.58,1298.90 1064.68,1299.00 1071.77,1299.10 1078.86,1299.10 1085.95,1299.00 1093.04,1298.90 1100.13,1298.80 1107.22,1298.80 1114.31,1299.00 1121.40,1299.20 1128.49,1299.30 1135.59,1299.20 1142.68,1299.00 1149.77,1298.60 1156.86,1298.40 1163.95,1299.00 1171.04,1300.00 1178.13,1300.80 1185.22,1300.60 1192.31,1299.30 1199.40,1298.70 1206.49,1304.40 1213.59,1313.90 1220.68,1320.90 1227.77,1326.20 1234.86,1329.60 1241.95,1330.65" fill="none" stroke="#2ca02c" stroke-width="3.25" stroke-linejoin="round" stroke-linecap="square" clip-path="url(#c2)"/>
<rect x="497.8" y="776.1" width="781.10" height="581.40" fill="none" stroke="#000" stroke-width="1.73" stroke-linejoin="miter" stroke-linecap="square"/>
<line x1="533.80" y1="1357.5" x2="533.80" y2="1365.50" stroke="#000" stroke-width="1.73"/>
<text x="533.80" y="1389.80" text-anchor="middle" class="t">0.0</text>
<line x1="675.60" y1="1357.5" x2="675.60" y2="1365.50" stroke="#000" stroke-width="1.73"/>
<text x="675.60" y="1389.80" text-anchor="middle" class="t">0.2</text>
<line x1="817.40" y1="1357.5" x2="817.40" y2="1365.50" stroke="#000" stroke-width="1.73"/>
<text x="817.40" y="1389.80" text-anchor="middle" class="t">0.4</text>
<line x1="959.20" y1="1357.5" x2="959.20" y2="1365.50" stroke="#000" stroke-width="1.73"/>
<text x="959.20" y="1389.80" text-anchor="middle" class="t">0.6</text>
<line x1="1101.00" y1="1357.5" x2="1101.00" y2="1365.50" stroke="#000" stroke-width="1.73"/>
<text x="1101.00" y="1389.80" text-anchor="middle" class="t">0.8</text>
<line x1="1242.80" y1="1357.5" x2="1242.80" y2="1365.50" stroke="#000" stroke-width="1.73"/>
<text x="1242.80" y="1389.80" text-anchor="middle" class="t">1.0</text>
<line x1="489.80" y1="1330.65" x2="497.8" y2="1330.65" stroke="#000" stroke-width="1.73"/>
<text x="482.30" y="1338.65" text-anchor="end" class="t">0</text>
<line x1="489.80" y1="1203.23" x2="497.8" y2="1203.23" stroke="#000" stroke-width="1.73"/>
<text x="482.30" y="1211.23" text-anchor="end" class="t">2</text>
<line x1="489.80" y1="1075.81" x2="497.8" y2="1075.81" stroke="#000" stroke-width="1.73"/>
<text x="482.30" y="1083.81" text-anchor="end" class="t">4</text>
<line x1="489.80" y1="948.39" x2="497.8" y2="948.39" stroke="#000" stroke-width="1.73"/>
<text x="482.30" y="956.39" text-anchor="end" class="t">6</text>
<line x1="489.80" y1="820.97" x2="497.8" y2="820.97" stroke="#000" stroke-width="1.73"/>
<text x="482.30" y="828.97" text-anchor="end" class="t">8</text>
<text x="887.05" y="760.50" text-anchor="middle" class="ti">Quantum Phase Estimation Algorithm for 5+1 qubits</text>
<text x="887.35" y="1419.50" text-anchor="middle" class="t">PHI</text>
<rect x="1153.40" y="787.50" width="114.0" height="103.9" rx="4.3" ry="4.3" fill="#fff" fill-opacity="0.8" stroke="#d6d6d6" stroke-width="2"/>
<line x1="1162.10" y1="803.40" x2="1205.40" y2="803.40" stroke="#1f77b4" stroke-width="3.25" stroke-linecap="square"/>
<text x="1224.80" y="811.20" class="t">CM</text>
<line x1="1162.10" y1="836.35" x2="1205.40" y2="836.35" stroke="#ff7f0e" stroke-width="3.25" stroke-linecap="square"/>
<text x="1222.90" y="844.05" class="t">MU</text>
<line x1="1162.10" y1="869.30" x2="1205.40" y2="869.30" stroke="#2ca02c" stroke-width="3.25" stroke-linecap="square"/>
<text x="1224.80" y="876.90" class="t">GM</text>
</svg>
</body></html>
